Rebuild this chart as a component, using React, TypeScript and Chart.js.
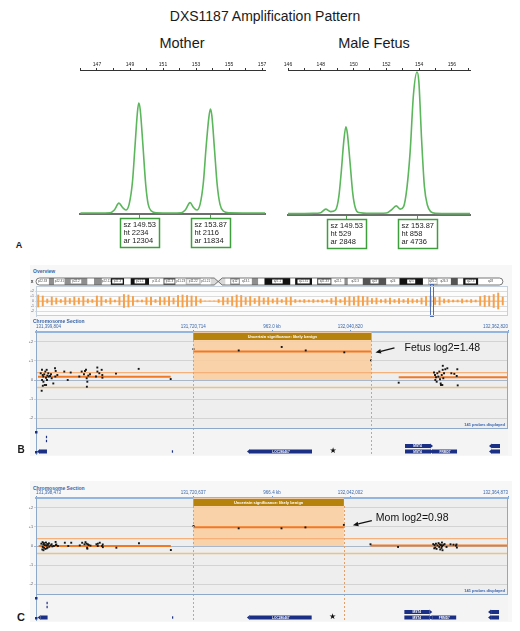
import React, { useEffect, useRef } from 'react';
import { Chart, registerables } from 'chart.js';
Chart.register(...registerables);

const FONT = '"Liberation Sans", Arial, Helvetica, sans-serif';

// ---------------- Panel A : DXS1187 electropherograms ----------------
const motherSizes = [146.0, 147.0, 147.8, 148.05, 148.33, 148.55, 148.75, 148.95, 149.15, 149.3, 149.45, 149.53, 149.62, 149.78, 149.95, 150.1, 150.3, 150.6, 151.5, 152.1, 152.35, 152.64, 152.85, 153.05, 153.25, 153.45, 153.6, 153.78, 153.87, 153.96, 154.12, 154.28, 154.45, 154.65, 155.0, 157.18];
const motherRfu = [18, 20, 25, 80, 220, 130, 80, 200, 650, 1350, 2050, 2234, 2100, 1400, 600, 200, 60, 25, 20, 25, 80, 230, 130, 80, 200, 650, 1300, 1950, 2116, 1980, 1300, 600, 200, 60, 25, 20];
const fetusSizes = [146.0, 147.5, 148.0, 148.3, 148.6, 148.9, 149.1, 149.25, 149.4, 149.53, 149.62, 149.78, 149.95, 150.1, 150.3, 151.0, 152.0, 152.3, 152.6, 152.85, 153.05, 153.25, 153.45, 153.65, 153.87, 153.98, 154.15, 154.32, 154.5, 154.7, 155.0, 157.1];
const fetusRfu = [8, 10, 14, 35, 20, 30, 110, 260, 440, 529, 490, 320, 130, 45, 15, 10, 12, 30, 55, 35, 50, 160, 380, 720, 858, 800, 450, 170, 60, 20, 10, 8];

const motherPeakSizes = [149.53, 153.87];
const motherPeakHeights = [2234, 2116];
const motherPeakAreas = [12304, 11834];
const fetusPeakSizes = [149.53, 153.87];
const fetusPeakHeights = [529, 858];
const fetusPeakAreas = [2848, 4736];

// ---------------- Panel B/C : array CGH ----------------
const bandNames = ['p22.33', 'p22.32', 'p22.31', 'p22.2', 'p22.13', 'p22.12', 'p22.11', 'p21.3', 'p21.2', 'p21.1', 'p11.4', 'p11.3', 'p11.23', 'p11.22', 'p11.21', 'p11.1', 'q11.1', 'q11.2', 'q12', 'q13.1', 'q13.2', 'q13.3', 'q21.1', 'q21.2', 'q21.31', 'q21.32', 'q21.33', 'q22.1', 'q22.2', 'q22.3', 'q23', 'q24', 'q25', 'q26.1', 'q26.2', 'q26.3', 'q27.1', 'q27.2', 'q27.3', 'q28'];
const bandStarts = [0, 4.3, 6.0, 9.5, 17.1, 19.3, 21.9, 24.9, 29.3, 31.5, 37.6, 42.4, 46.4, 49.8, 54.8, 58.1, 60.6, 63.0, 64.6, 67.8, 71.8, 73.9, 76.0, 84.6, 86.2, 91.8, 93.5, 98.3, 102.6, 103.7, 108.7, 116.5, 120.9, 128.7, 130.4, 133.6, 138.0, 140.3, 142.1, 147.1];
const bandEnds = [4.3, 6.0, 9.5, 17.1, 19.3, 21.9, 24.9, 29.3, 31.5, 37.6, 42.4, 46.4, 49.8, 54.8, 58.1, 60.6, 63.0, 64.6, 67.8, 71.8, 73.9, 76.0, 84.6, 86.2, 91.8, 93.5, 98.3, 102.6, 103.7, 108.7, 116.5, 120.9, 128.7, 130.4, 133.6, 138.0, 140.3, 142.1, 147.1, 155.3];
const bandStains = ['gneg', 'gpos50', 'gneg', 'gpos50', 'gneg', 'gpos50', 'gneg', 'gpos100', 'gneg', 'gpos100', 'gneg', 'gpos75', 'gneg', 'gpos25', 'gneg', 'acen', 'acen', 'gneg', 'gpos50', 'gneg', 'gpos50', 'gneg', 'gpos100', 'gneg', 'gpos100', 'gneg', 'gpos75', 'gneg', 'gpos50', 'gneg', 'gpos75', 'gneg', 'gpos100', 'gneg', 'gpos25', 'gneg', 'gpos75', 'gneg', 'gpos100', 'gneg'];
const centromere = 60.6;

// overview: whole-chromosome log2 spread per 1.5 Mb bin
const ovBinWidth = 1.5;
const ovAmp = [1.2, 1.0, 0.4, 0.8, 0.6, 0.3, 0.7, 0.5, 0.8, 0.6, 0.9, 0.4, 0.3, 1.0, 0.9, 0.3, 0.6, 0.2, 0.8, 1.3, 1.2, 0.9, 0.2, 0.2, 0.7, 0.8, 0.3, 0.8, 0.7, 0.9, 0.6, 1.1, 1.2, 1.1, 1.0, 0.9, 0.4, 0, 0, 0, 0.3, 0.8, 0.6, 0.9, 1.2, 1.1, 0.7, 0.9, 0.5, 0.9, 0.6, 0.7, 0.4, 0.6, 0.3, 0.7, 0.8, 0.3, 0.2, 0.3, 0.2, 0.3, 0.2, 0.3, 0.2, 0.5, 0.8, 0.3, 0.7, 0.9, 0.8, 1.0, 0.9, 0.8, 0.5, 0.6, 0.3, 0.4, 0.6, 0.3, 0.5, 0.3, 0.5, 0.4, 0.3, 0.6, 0.9, 1.0, 0.7, 0.8, 0.4, 0.3, 0.2, 0.2, 0.4, 0.2, 0.3, 0.2, 0.9, 1.1, 1.0, 1.3, 1.6, 0.8];

// probes (Mb) in the chromosome section, shared by fetus and mother
const probePos = [131.4094, 131.4114, 131.4120, 131.4122, 131.4135, 131.4137, 131.4147, 131.4149, 131.4167, 131.4176, 131.4188, 131.4202, 131.4204, 131.4216, 131.4222, 131.4229, 131.4249, 131.4257, 131.4284, 131.4304, 131.4318, 131.4351, 131.4386, 131.4392, 131.4400, 131.4433, 131.4575, 131.4645, 131.4706, 131.4881, 131.4930, 131.4977, 131.4998, 131.5018, 131.5032, 131.5036, 131.5045, 131.5065, 131.5100, 131.5222, 131.5249, 131.5251, 131.5290, 131.5338, 131.5351, 131.5353, 131.5630, 131.6093, 131.6746, 131.7210, 131.8134, 131.9011, 131.9501, 132.0288, 132.0833, 132.1398, 132.2119, 132.2139, 132.2145, 132.2159, 132.2173, 132.2186, 132.2206, 132.2227, 132.2241, 132.2255, 132.2261, 132.2276, 132.2288, 132.2296, 132.2298, 132.2308, 132.2323, 132.2349, 132.2390, 132.2472, 132.2533, 132.2582, 132.2594, 132.2602];
const fetusLog2 = [0.35, -0.56, 0.53, 0.00, 0.26, -0.30, 0.18, -0.09, 0.30, -0.26, 0.44, 0.12, -0.26, 0.53, 0.00, 0.23, 0.35, 0.18, 0.21, 0.30, 0.09, -0.18, 0.61, 0.18, 0.47, 0.26, 0.44, 0.00, 0.39, 0.18, 0.44, 0.30, 0.47, 0.53, 0.09, -0.35, -0.09, 0.23, 0.30, 0.18, 0.65, 0.44, 0.35, 0.53, 0.26, 0.12, 0.33, 0.58, 0.05, 1.61, 1.54, 1.72, 1.54, 1.44, 1.02, -0.14, 0.39, 0.26, 0.00, 0.14, -0.09, 0.35, 0.18, 0.44, 0.04, -0.18, -0.26, 0.26, -0.26, 0.53, 0.74, 0.09, 0.35, 0.56, 0.61, 0.35, 0.32, 0.21, 0.56, -0.28];
const momLog2 = [0.12, -0.18, 0.20, -0.05, 0.08, -0.22, 0.15, -0.10, 0.05, -0.15, 0.18, 0.02, -0.12, 0.10, -0.08, 0.06, 0.14, -0.04, 0.03, 0.09, -0.02, 0.00, 0.21, 0.05, 0.08, 0.00, 0.17, 0.00, 0.17, 0.03, 0.17, 0.09, 0.20, 0.12, -0.09, -0.14, 0.09, 0.05, 0.02, 0.09, 0.00, 0.12, 0.17, 0.00, 0.08, -0.06, -0.09, 0.14, -0.21, 1.04, 0.92, 0.92, 0.97, 1.10, 0.09, -0.05, 0.10, -0.12, 0.05, -0.08, 0.12, -0.15, 0.03, 0.15, -0.05, 0.08, -0.18, 0.05, -0.10, 0.18, 0.00, -0.22, 0.05, 0.10, -0.05, 0.09, 0.07, 0.02, 0.08, -0.08];

const fetusSegStarts = [131.4039, 131.720714, 132.1398];
const fetusSegEnds = [131.6746, 132.0843, 132.36282];
const fetusSegValues = [0.17, 1.48, 0.14];
const momSegStarts = [131.4039, 131.720637, 132.0833];
const momSegEnds = [131.6746, 132.0288, 132.364873];
const momSegValues = [0.0, 0.98, 0.02];

const thresholdValues = [0.38, -0.39];
const thresholdColors = ['#f6b07a', '#e6c486'];
const yTickValues = [-2, -1, 0, 1, 2];

const fetusTickValues = [131.399804, 131.720714, 131.881312, 132.04082, 132.36282];
const fetusTickLabels = ['131,399,804', '131,720,714', '963.0 kb', '132,040,820', '132,362,820'];
const momTickValues = [131.398473, 131.720637, 131.881673, 132.042002, 132.364873];
const momTickLabels = ['131,398,473', '131,720,637', '966.4 kb', '132,042,002', '132,364,873'];

const geneNames = ['', '', '', '', 'LOC286467', 'MST4', 'MST4', 'FRMD7', '', ''];
const geneStarts = [131.4080, 131.4200, 131.4200, 131.6770, 131.8364, 132.1527, 132.1527, 132.2098, 132.3302, 132.3302];
const geneEnds = [131.4222, 131.4212, 131.4212, 131.6776, 131.9629, 132.2037, 132.2037, 132.2588, 132.3465, 132.3465];
const geneRows = [0, 2, 3, 0, 0, 1, 0, 0, 0, 1];
const geneStrands = [-1, 0, 0, 0, -1, 1, 1, -1, -1, -1];
const starPos = 132.0058;
const cnvLabel = 'Uncertain significance: likely benign';
const probesText = '141 probes displayed';

// ---------------- chart builders ----------------
function peakBoxPlugin(sizes: number[], heights: number[], areas: number[]) {
  return {
    id: 'peakBoxes',
    afterDraw(chart: any) {
      const { ctx, chartArea: a } = chart;
      const xs = chart.scales.x;
      sizes.forEach((s, i) => {
        const px = Math.round(xs.getPixelForValue(s)) + 0.5;
        const top = a.bottom + 4.5;
        const w = 39, h = 29, left = px - 19;
        ctx.save();
        ctx.strokeStyle = '#4d9d4d';
        ctx.lineWidth = 1;
        ctx.beginPath();
        ctx.moveTo(px, a.bottom + 1);
        ctx.lineTo(px, top);
        ctx.stroke();
        ctx.fillStyle = '#ffffff';
        ctx.fillRect(left, top, w, h);
        ctx.lineWidth = 1.5;
        ctx.strokeStyle = '#3e9e3e';
        ctx.strokeRect(left, top, w, h);
        ctx.fillStyle = '#222';
        ctx.font = `7.5px ${FONT}`;
        ctx.textBaseline = 'middle';
        ctx.textAlign = 'left';
        ['sz ' + s.toFixed(2), 'ht ' + heights[i], 'ar ' + areas[i]].forEach((t, j) => {
          ctx.fillText(t, left + 3, top + 6 + j * 8.4);
        });
        ctx.restore();
      });
    },
  };
}

function epgConfig(sizes: number[], rfu: number[], min: number, max: number, ymax: number, oddLabels: boolean,
  pS: number[], pH: number[], pA: number[]) {
  return {
    type: 'line',
    data: {
      datasets: [{
        data: sizes.map((x, i) => ({ x, y: rfu[i] })),
        borderColor: '#5cb65c', borderWidth: 1.6, pointRadius: 0,
        tension: 0.4, cubicInterpolationMode: 'monotone', fill: false, xAxisID: 'x', yAxisID: 'y',
      }],
    },
    options: {
      animation: false, responsive: false, devicePixelRatio: 1, events: [],
      layout: { padding: { left: 10, right: 15, top: 0, bottom: 40 } },
      plugins: { legend: { display: false }, tooltip: { enabled: false } },
      scales: {
        x: {
          type: 'linear', position: 'top', min, max,
          afterFit: (ax: any) => { ax.height = 15; },
          ticks: {
            stepSize: 1, includeBounds: false, autoSkip: false, maxRotation: 0, maxTicksLimit: 100,
            font: { size: 5, family: FONT }, color: '#222', padding: 0,
            callback: (v: any) => {
              const r = Math.round(v);
              return (Math.abs(r % 2) === (oddLabels ? 1 : 0)) ? String(r) : '';
            },
          },
          grid: { drawOnChartArea: false, tickLength: 2, color: '#333', lineWidth: 1 },
          border: { color: '#333', width: 1 },
        },
        xb: {
          type: 'linear', position: 'bottom', min, max,
          afterFit: (ax: any) => { ax.height = 0; },
          ticks: { display: false },
          grid: { display: false, drawTicks: false },
          border: { color: '#6e6e6e', width: 2 },
        },
        y: { display: false, min: 0, max: ymax },
      },
    },
    plugins: [peakBoxPlugin(pS, pH, pA)],
  };
}

function stainColor(s: string) {
  if (s === 'gpos25') return '#c4c4c4';
  if (s === 'gpos50') return '#8e8e8e';
  if (s === 'gpos75') return '#545454';
  if (s === 'gpos100') return '#111111';
  if (s === 'acen') return '#d9d9d9';
  return '#ffffff';
}

function overviewConfig() {
  const decor = {
    id: 'ovDecor',
    beforeDraw(chart: any) {
      const { ctx, chartArea: a } = chart;
      ctx.save();
      ctx.fillStyle = '#fcfcfc';
      ctx.fillRect(a.left, a.top, a.right - a.left, a.bottom - a.top);
      ctx.restore();
    },
    afterDraw(chart: any) {
      const { ctx, chartArea: a } = chart;
      const xs = chart.scales.x;
      const top = a.top - 8, bot = a.top - 1, mid = (top + bot) / 2, r = 3.5;
      const x0 = xs.getPixelForValue(bandStarts[0]);
      const x1 = xs.getPixelForValue(bandEnds[bandEnds.length - 1]);
      const xc = xs.getPixelForValue(centromere);
      ctx.save();
      ctx.beginPath();
      ctx.moveTo(x0 + r, top);
      ctx.lineTo(xc - 4, top);
      ctx.lineTo(xc, mid);
      ctx.lineTo(xc + 4, top);
      ctx.lineTo(x1 - r, top);
      ctx.arc(x1 - r, mid, r, -Math.PI / 2, Math.PI / 2);
      ctx.lineTo(xc + 4, bot);
      ctx.lineTo(xc, mid);
      ctx.lineTo(xc - 4, bot);
      ctx.lineTo(x0 + r, bot);
      ctx.arc(x0 + r, mid, r, Math.PI / 2, Math.PI * 1.5);
      ctx.closePath();
      ctx.save();
      ctx.clip();
      bandStarts.forEach((b, i) => {
        const bx = xs.getPixelForValue(b), ex = xs.getPixelForValue(bandEnds[i]);
        ctx.fillStyle = stainColor(bandStains[i]);
        ctx.fillRect(bx, top, ex - bx + 0.3, bot - top);
      });
      ctx.font = `3px ${FONT}`;
      ctx.textAlign = 'center';
      ctx.textBaseline = 'middle';
      bandStarts.forEach((b, i) => {
        const bx = xs.getPixelForValue(b), ex = xs.getPixelForValue(bandEnds[i]);
        if (ex - bx < 9 || bandStains[i] === 'acen') return;
        const cx = (bx + ex) / 2;
        const tw = Math.min(ex - bx - 2, ctx.measureText(bandNames[i]).width + 3);
        ctx.fillStyle = '#ffffff';
        ctx.fillRect(cx - tw / 2, mid - 2, tw, 4);
        ctx.fillStyle = '#444';
        ctx.fillText(bandNames[i], cx, mid);
      });
      ctx.restore();
      ctx.strokeStyle = '#555';
      ctx.lineWidth = 0.8;
      ctx.stroke();
      ctx.fillStyle = '#222';
      ctx.font = `bold 4px ${FONT}`;
      ctx.textAlign = 'center';
      ctx.textBaseline = 'middle';
      ctx.fillText('X', a.left - 4, mid);
      // selected window
      const s0 = xs.getPixelForValue(fetusTickValues[0]);
      const s1 = xs.getPixelForValue(fetusTickValues[fetusTickValues.length - 1]);
      ctx.strokeStyle = '#4f6fb5';
      ctx.lineWidth = 1;
      ctx.strokeRect(Math.round(s0) - 0.5, a.top - 1.5, Math.max(3, s1 - s0), a.bottom - a.top + 2);
      ctx.strokeStyle = '#c5d0de';
      ctx.strokeRect(a.left + 0.5, a.top + 0.5, a.right - a.left - 1, a.bottom - a.top - 1);
      ctx.restore();
    },
  };
  return {
    type: 'bar',
    data: {
      datasets: [
        {
          type: 'bar',
          data: ovAmp.map((amp, i) => ({ x: (i + 0.5) * ovBinWidth, y: [-amp, amp] })),
          backgroundColor: '#f5a04a', borderWidth: 0, barThickness: 1.3,
        },
        {
          type: 'line',
          data: [{ x: 0, y: 0 }, { x: bandEnds[bandEnds.length - 1], y: 0 }],
          borderColor: 'rgba(242,150,60,0.6)', borderWidth: 1, pointRadius: 0,
        },
      ],
    },
    options: {
      animation: false, responsive: false, devicePixelRatio: 1, events: [],
      layout: { padding: { left: 0, right: 7, top: 21, bottom: 7 } },
      plugins: { legend: { display: false }, tooltip: { enabled: false } },
      scales: {
        x: { type: 'linear', min: 0, max: 157, offset: false, display: false, grid: { offset: false } },
        y: {
          min: -3, max: 3,
          afterFit: (ax: any) => { ax.width = 8; },
          afterBuildTicks: (ax: any) => { ax.ticks = yTickValues.map((v) => ({ value: v })); },
          ticks: { font: { size: 3.5, family: FONT }, color: '#667', padding: 1, callback: (v: any) => (v > 0 ? '+' + v : String(v)) },
          grid: { color: '#dcdcdc', tickLength: 1 },
          border: { color: '#c5d0de' },
        },
      },
    },
    plugins: [decor],
  };
}

const GENE_H = 27;

function sectionConfig(s: any) {
  const decor = {
    id: 'secDecor',
    beforeDraw(chart: any) {
      const { ctx, chartArea: a } = chart;
      ctx.save();
      ctx.fillStyle = '#f4f4f4';
      ctx.fillRect(a.left, a.bottom, a.right - a.left, GENE_H);
      ctx.fillStyle = '#eeeeee';
      ctx.fillRect(a.left, a.top, a.right - a.left, a.bottom - a.top);
      ctx.restore();
    },
    beforeDatasetsDraw(chart: any) {
      const { ctx, chartArea: a, scales } = chart;
      const x1 = scales.x.getPixelForValue(s.cnv[0]);
      const x2 = scales.x.getPixelForValue(s.cnv[1]);
      const y0 = scales.y.getPixelForValue(0);
      ctx.save();
      ctx.fillStyle = 'rgba(252,205,158,0.85)';
      ctx.fillRect(x1, a.top, x2 - x1, y0 - a.top);
      ctx.fillStyle = '#b5820d';
      ctx.fillRect(x1, a.top + 1, x2 - x1, 7);
      ctx.fillStyle = '#fff';
      ctx.font = `bold 4px ${FONT}`;
      ctx.textAlign = 'center';
      ctx.textBaseline = 'middle';
      ctx.fillText(cnvLabel, (x1 + x2) / 2, a.top + 4.6);
      ctx.restore();
    },
    afterDatasetsDraw(chart: any) {
      const { ctx, chartArea: a, scales } = chart;
      const xs = scales.x, ys = scales.y;
      const x1 = xs.getPixelForValue(s.cnv[0]);
      const x2 = xs.getPixelForValue(s.cnv[1]);
      ctx.save();
      // boundaries
      ctx.strokeStyle = '#e3a066';
      ctx.lineWidth = 1;
      ctx.setLineDash([2, 2]);
      [x1, x2].forEach((px) => {
        ctx.beginPath();
        ctx.moveTo(Math.round(px) + 0.5, a.top + 8);
        ctx.lineTo(Math.round(px) + 0.5, a.bottom + GENE_H);
        ctx.stroke();
      });
      ctx.setLineDash([]);
      // frame
      ctx.strokeStyle = '#8ea8c9';
      ctx.beginPath();
      ctx.moveTo(a.left + 0.5, a.top);
      ctx.lineTo(a.left + 0.5, a.bottom + GENE_H);
      ctx.moveTo(a.left, a.bottom + 0.5);
      ctx.lineTo(a.right, a.bottom + 0.5);
      ctx.moveTo(a.right - 0.5, a.top);
      ctx.lineTo(a.right - 0.5, a.bottom);
      ctx.stroke();
      ctx.fillStyle = '#1b2f85';
      ctx.fillRect(a.left - 1, a.bottom + 3, 2.5, 2.5);
      ctx.fillRect(a.left - 1, a.bottom + 23, 2.5, 2.5);
      // probes displayed
      ctx.fillStyle = '#2f5fb0';
      ctx.font = `bold 4px ${FONT}`;
      ctx.textAlign = 'right';
      ctx.textBaseline = 'middle';
      ctx.fillText(probesText, a.right - 3, a.bottom - 3.5);
      // genes
      const rowOff = [23.5, 18, 13, 9];
      geneStarts.forEach((g0, i) => {
        const gx1 = xs.getPixelForValue(g0);
        const gx2 = xs.getPixelForValue(geneEnds[i]);
        const yc = a.bottom + rowOff[geneRows[i]];
        const w = Math.max(1.2, gx2 - gx1);
        const hh = geneStrands[i] === 0 ? 1.2 : 2;
        ctx.fillStyle = '#1b2f85';
        ctx.fillRect(gx1, yc - hh, w, hh * 2);
        if (geneStrands[i] === -1) {
          ctx.beginPath();
          ctx.moveTo(gx1 - 3, yc);
          ctx.lineTo(gx1, yc - 2.6);
          ctx.lineTo(gx1, yc + 2.6);
          ctx.closePath();
          ctx.fill();
        } else if (geneStrands[i] === 1) {
          ctx.beginPath();
          ctx.moveTo(gx1 + w + 3, yc);
          ctx.lineTo(gx1 + w, yc - 2.6);
          ctx.lineTo(gx1 + w, yc + 2.6);
          ctx.closePath();
          ctx.fill();
        }
        if (geneNames[i]) {
          ctx.fillStyle = '#ffffff';
          ctx.font = `bold 3.2px ${FONT}`;
          ctx.textAlign = 'center';
          ctx.fillText(geneNames[i], gx1 + w / 2, yc + 0.2);
        }
      });
      ctx.fillStyle = '#111';
      ctx.font = `8px "DejaVu Sans", sans-serif`;
      ctx.textAlign = 'center';
      ctx.textBaseline = 'middle';
      ctx.fillText('\u2605', xs.getPixelForValue(starPos), a.bottom + 22.5);
      // callout
      const ex = xs.getPixelForValue(s.segEnds[s.calloutSeg]);
      const ey = ys.getPixelForValue(s.segValues[s.calloutSeg]);
      const hx = ex + s.head[0], hy = ey + s.head[1];
      const tx = hx + 19, ty = hy - 4.6;
      const dx = hx - tx, dy = hy - ty, len = Math.hypot(dx, dy);
      const ux = dx / len, uy = dy / len;
      const bx = hx - ux * 5.5, by = hy - uy * 5.5;
      ctx.strokeStyle = '#111';
      ctx.lineWidth = 1.3;
      ctx.beginPath();
      ctx.moveTo(tx, ty);
      ctx.lineTo(bx, by);
      ctx.stroke();
      ctx.beginPath();
      ctx.moveTo(hx, hy);
      ctx.lineTo(bx - uy * 2.3, by + ux * 2.3);
      ctx.lineTo(bx + uy * 2.3, by - ux * 2.3);
      ctx.closePath();
      ctx.fill();
      ctx.font = `10.5px ${FONT}`;
      ctx.textAlign = 'left';
      ctx.fillText(s.callout, hx + s.textOff[0], hy + s.textOff[1]);
      ctx.restore();
    },
  };

  const segDs = s.segStarts.map((a0: number, i: number) => ({
    type: 'line',
    data: [{ x: a0, y: s.segValues[i] }, { x: s.segEnds[i], y: s.segValues[i] }],
    borderColor: '#f07a24', borderWidth: 2, pointRadius: 0,
  }));
  const thrDs = thresholdValues.map((t, i) => ({
    type: 'line',
    data: [{ x: s.min, y: t }, { x: s.max, y: t }],
    borderColor: thresholdColors[i], borderWidth: 1.3, pointRadius: 0,
  }));
  const ptsDs = {
    type: 'line',
    data: probePos.map((x, i) => ({ x, y: s.values[i] })),
    showLine: false, pointStyle: 'rect', pointRadius: 1.35,
    pointBackgroundColor: '#161616', pointBorderWidth: 0,
  };

  return {
    type: 'line',
    data: { datasets: [ptsDs, ...segDs, ...thrDs] },
    options: {
      animation: false, responsive: false, devicePixelRatio: 1, events: [],
      layout: { padding: { left: 0, right: 7, top: 0, bottom: GENE_H } },
      plugins: { legend: { display: false }, tooltip: { enabled: false } },
      scales: {
        x: {
          type: 'linear', position: 'top', min: s.min, max: s.max,
          afterFit: (ax: any) => { ax.height = 14; },
          afterBuildTicks: (ax: any) => { ax.ticks = s.tickValues.map((v: number) => ({ value: v })); },
          ticks: {
            autoSkip: false, maxRotation: 0, align: 'inner',
            font: { size: 4.5, family: FONT }, color: '#3b66a8', padding: 1,
            callback: (_v: any, i: number) => s.tickLabels[i],
          },
          grid: { drawOnChartArea: false, tickLength: 2, color: '#7497c8' },
          border: { color: '#93b5de', width: 2 },
        },
        y: {
          min: -2.5, max: 2.5,
          afterFit: (ax: any) => { ax.width = 8; },
          afterBuildTicks: (ax: any) => { ax.ticks = yTickValues.map((v) => ({ value: v })); },
          ticks: { font: { size: 3.8, family: FONT }, color: '#556', padding: 1, callback: (v: any) => (v > 0 ? '+' + v : String(v)) },
          grid: { color: (c: any) => (c.tick && c.tick.value === 0 ? '#a9b7c9' : '#d3d3d3'), tickLength: 2 },
          border: { color: '#8ea8c9' },
        },
      },
    },
    plugins: [decor],
  };
}

const FETUS_SPEC = {
  min: 131.399804, max: 132.36282, values: fetusLog2,
  segStarts: fetusSegStarts, segEnds: fetusSegEnds, segValues: fetusSegValues,
  cnv: [131.720714, 132.0843], tickValues: fetusTickValues, tickLabels: fetusTickLabels,
  callout: 'Fetus log2=1.48', calloutSeg: 1, head: [4, 1], textOff: [29, -4.7],
};
const MOM_SPEC = {
  min: 131.398473, max: 132.364873, values: momLog2,
  segStarts: momSegStarts, segEnds: momSegEnds, segValues: momSegValues,
  cnv: [131.720637, 132.0288], tickValues: momTickValues, tickLabels: momTickLabels,
  callout: 'Mom log2=0.98', calloutSeg: 1, head: [9, -2], textOff: [23, -7.4],
};

// ---------------- components ----------------
function ChartBox({ left, top, width, height, make }: any) {
  const ref = useRef<HTMLCanvasElement>(null);
  useEffect(() => {
    const chart = new Chart(ref.current as HTMLCanvasElement, make());
    return () => chart.destroy();
  }, []);
  return (
    <canvas ref={ref} width={width} height={height}
      style={{ position: 'absolute', left, top, width, height, display: 'block' }} />
  );
}

function Txt({ x, y, size, bold, children, color }: any) {
  return (
    <div style={{
      position: 'absolute', left: x, top: y, transform: 'translate(-50%, -50%)', whiteSpace: 'nowrap',
      fontSize: size, lineHeight: 1, fontWeight: bold ? 'bold' : 'normal', color: color || '#1a1a1a', fontFamily: FONT,
    }}>{children}</div>
  );
}

function Lbl({ x, y, children }: any) {
  return (
    <div style={{
      position: 'absolute', left: x, top: y, transform: 'translateY(-50%)', whiteSpace: 'nowrap',
      fontSize: 5, lineHeight: 1, fontWeight: 'bold', color: '#3a64a6', fontFamily: FONT,
    }}>{children}</div>
  );
}

export default function App() {
  return (
    <div style={{ position: 'absolute', left: 0, top: 0, width: 520, height: 631, background: '#ffffff', overflow: 'hidden', fontFamily: FONT }}>
      <Txt x={265} y={16} size={14}>DXS1187 Amplification Pattern</Txt>
      <Txt x={182} y={43} size={14.5}>Mother</Txt>
      <Txt x={374} y={43} size={14.5}>Male Fetus</Txt>
      <ChartBox left={70} top={55} width={210} height={199}
        make={() => epgConfig(motherSizes, motherRfu, 145.97, 157.18, 2900, true, motherPeakSizes, motherPeakHeights, motherPeakAreas)} />
      <ChartBox left={278} top={55} width={207} height={200}
        make={() => epgConfig(fetusSizes, fetusRfu, 146.0, 157.1, 870, false, fetusPeakSizes, fetusPeakHeights, fetusPeakAreas)} />
      <Txt x={19} y={245} size={9} bold>A</Txt>

      <div style={{ position: 'absolute', left: 30, top: 265, width: 482, height: 191, background: '#f7f7f7' }} />
      <Lbl x={33} y={271}>Overview</Lbl>
      <ChartBox left={28} top={265} width={487} height={58} make={overviewConfig} />
      <Lbl x={33} y={321}>Chromosome Section</Lbl>
      <ChartBox left={28} top={318} width={487} height={137} make={() => sectionConfig(FETUS_SPEC)} />
      <Txt x={21} y={450} size={10} bold>B</Txt>

      <div style={{ position: 'absolute', left: 30, top: 481, width: 482, height: 141, background: '#f7f7f7' }} />
      <Lbl x={33} y={488}>Chromosome Section</Lbl>
      <ChartBox left={28} top={484} width={487} height={137} make={() => sectionConfig(MOM_SPEC)} />
      <Txt x={21} y={617} size={11} bold>C</Txt>
    </div>
  );
}
